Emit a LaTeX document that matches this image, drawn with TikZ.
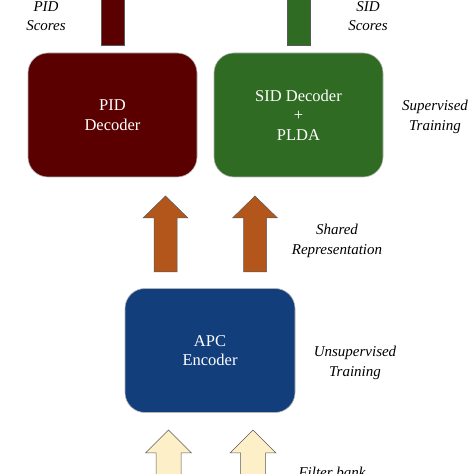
\documentclass[tikz,border=0pt]{standalone}
\usepackage{fontspec}
\setmainfont{Liberation Serif}
\usepackage{xcolor}
\usetikzlibrary{positioning}
\definecolor{pidred}{HTML}{5B0000}
\definecolor{sidgreen}{HTML}{2F6B22}
\definecolor{apcblue}{HTML}{123F7C}
\definecolor{reporange}{HTML}{B3561B}
\definecolor{fbcream}{HTML}{FDEFC7}

\begin{document}
\begin{tikzpicture}[x=1pt,y=1pt]
		\tikzstyle{every node}=[font=\fontsize{16.5}{19.5}\selectfont]
		\tikzstyle{block}=[draw=gray!60, line width=0.6pt, rounded corners=20pt, minimum width=169pt, minimum height=124pt, text=white, align=center, inner sep=0pt]
		\tikzstyle{note}=[font=\fontsize{15}{19.5}\selectfont\itshape, align=center]
		\tikzstyle{barrow}=[draw=gray!70!black, line width=0.5pt]
		\useasboundingbox (0,0) rectangle (474,474);
		% boxes
		\node [block, fill=pidred, minimum width=169pt] (pid) at (112.5,359) {PID\\Decoder};
		\node [block, fill=sidgreen] (sid) at (298.5,359) {SID Decoder\\+\\PLDA};
		\node [block, fill=apcblue, minimum width=170pt] (apc) at (210,123.5) {APC\\Encoder};
		% output bars
		\draw [barrow, fill=pidred] (101,429) rectangle (124,480);
		\draw [barrow, fill=sidgreen] (287,429) rectangle (310,480);
		% shared representation arrows
		\foreach \c in {165.5,255} {
			\draw [barrow, fill=reporange] (\c-11.5,202) -- (\c-11.5,256) -- (\c-22.5,256) -- (\c,278) -- (\c+22.5,256) -- (\c+11.5,256) -- (\c+11.5,202) -- cycle;
		}
		% filter bank arrows
		\foreach \c in {168.5,253} {
			\draw [barrow, fill=fbcream] (\c-12.5,-5) -- (\c-12.5,21) -- (\c-23,21) -- (\c,44) -- (\c+23,21) -- (\c+12.5,21) -- (\c+12.5,-5) -- cycle;
		}
		% labels
		\node [note] (pidsc) at (46,458) {PID\\Scores};
		\node [note] (sidsc) at (368,458) {SID\\Scores};
		\node [note] (sup) at (435,357) {Supervised\\Training};
		\node [note] (shared) at (337,233) {Shared\\Representation};
		\node [note] (unsup) at (355,111) {Unsupervised\\Training};
		\node [note, anchor=base west] (fbank) at (295,-4) {Filter bank};
\end{tikzpicture}
\end{document}
